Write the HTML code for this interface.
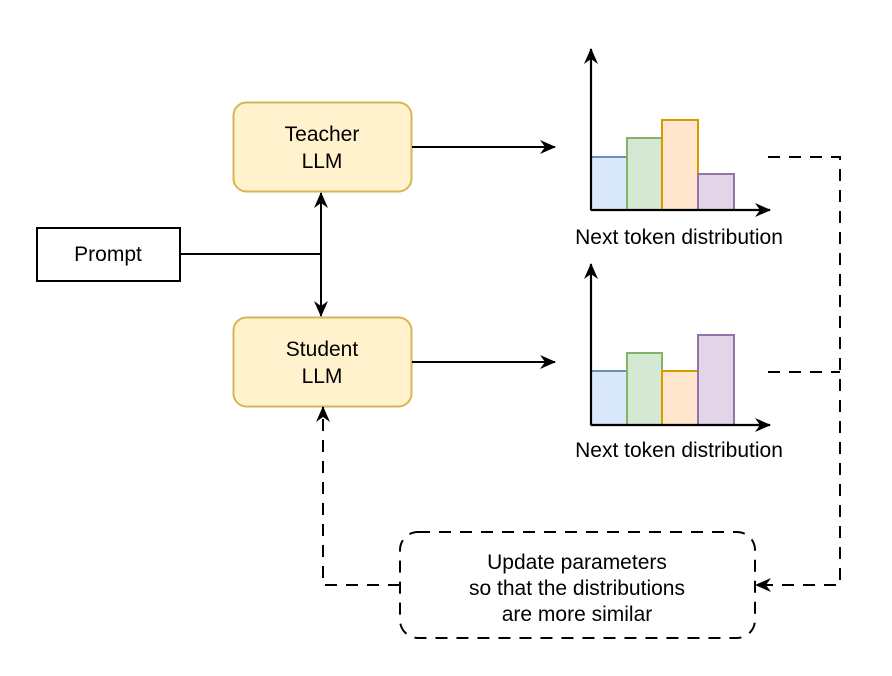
<!DOCTYPE html>
<html><head><meta charset="utf-8"><style>
html,body{margin:0;padding:0;background:#fff;}
svg{display:block;}
text{font-family:"Liberation Sans",Arial,sans-serif;font-size:21px;fill:#000;}
</style></head><body>
<svg width="892" height="676" viewBox="0 0 892 676" xmlns="http://www.w3.org/2000/svg">
<defs>
<marker id="ah2" markerWidth="16" markerHeight="14" refX="15" refY="7" orient="auto" markerUnits="userSpaceOnUse">
<path d="M0,0 L16,7 L0,14 L5,7 Z" fill="#000"/>
</marker>
</defs>
<rect x="233.5" y="102.5" width="178" height="89" rx="13" fill="#fff2cc" stroke="#d6b656" stroke-width="2"/>
<text x="322" y="141" text-anchor="middle">Teacher</text>
<text x="322" y="168" text-anchor="middle">LLM</text>
<rect x="233.5" y="317.5" width="178" height="89" rx="13" fill="#fff2cc" stroke="#d6b656" stroke-width="2"/>
<text x="322" y="356" text-anchor="middle">Student</text>
<text x="322" y="383" text-anchor="middle">LLM</text>
<rect x="37" y="228" width="143" height="53" fill="#fff" stroke="#000" stroke-width="2"/>
<text x="108" y="261" text-anchor="middle">Prompt</text>
<path d="M180,254 H321" stroke="#000" stroke-width="2" fill="none"/>
<path d="M321,254 V193" stroke="#000" stroke-width="2" fill="none" marker-end="url(#ah2)"/>
<path d="M321,254 V316" stroke="#000" stroke-width="2" fill="none" marker-end="url(#ah2)"/>
<path d="M412,147 H555" stroke="#000" stroke-width="2" fill="none" marker-end="url(#ah2)"/>
<path d="M412,362 H555" stroke="#000" stroke-width="2" fill="none" marker-end="url(#ah2)"/>
<rect x="591" y="157" width="36" height="53" fill="#dae8fc" stroke="#6c8ebf" stroke-width="2"/>
<rect x="627" y="138" width="35" height="72" fill="#d5e8d4" stroke="#82b366" stroke-width="2"/>
<rect x="662" y="120" width="36" height="90" fill="#ffe6cc" stroke="#d79b00" stroke-width="2"/>
<rect x="698" y="174" width="36" height="36" fill="#e1d5e7" stroke="#9673a6" stroke-width="2"/>
<path d="M591,210 V49" stroke="#000" stroke-width="2.2" fill="none" marker-end="url(#ah2)"/>
<path d="M591,210 H770" stroke="#000" stroke-width="2.2" fill="none" marker-end="url(#ah2)"/>
<text x="679" y="244" text-anchor="middle">Next token distribution</text>
<rect x="591" y="371" width="36" height="54" fill="#dae8fc" stroke="#6c8ebf" stroke-width="2"/>
<rect x="627" y="353" width="35" height="72" fill="#d5e8d4" stroke="#82b366" stroke-width="2"/>
<rect x="662" y="371" width="36" height="54" fill="#ffe6cc" stroke="#d79b00" stroke-width="2"/>
<rect x="698" y="335" width="36" height="90" fill="#e1d5e7" stroke="#9673a6" stroke-width="2"/>
<path d="M591,425 V264" stroke="#000" stroke-width="2.2" fill="none" marker-end="url(#ah2)"/>
<path d="M591,425 H770" stroke="#000" stroke-width="2.2" fill="none" marker-end="url(#ah2)"/>
<text x="679" y="457" text-anchor="middle">Next token distribution</text>
<path d="M768,157 H840 V585 H756" stroke="#000" stroke-width="2" fill="none" stroke-dasharray="12,9" marker-end="url(#ah2)"/>
<path d="M768,372 H840" stroke="#000" stroke-width="2" fill="none" stroke-dasharray="12,9"/>
<rect x="400" y="532" width="355" height="106" rx="18" fill="#fff" stroke="#000" stroke-width="2" stroke-dasharray="12,9"/>
<text x="577" y="569" text-anchor="middle">Update parameters</text>
<text x="577" y="595" text-anchor="middle">so that the distributions</text>
<text x="577" y="621" text-anchor="middle">are more similar</text>
<path d="M400,585 H323 V407" stroke="#000" stroke-width="2" fill="none" stroke-dasharray="12,9" marker-end="url(#ah2)"/>
</svg>
</body></html>
